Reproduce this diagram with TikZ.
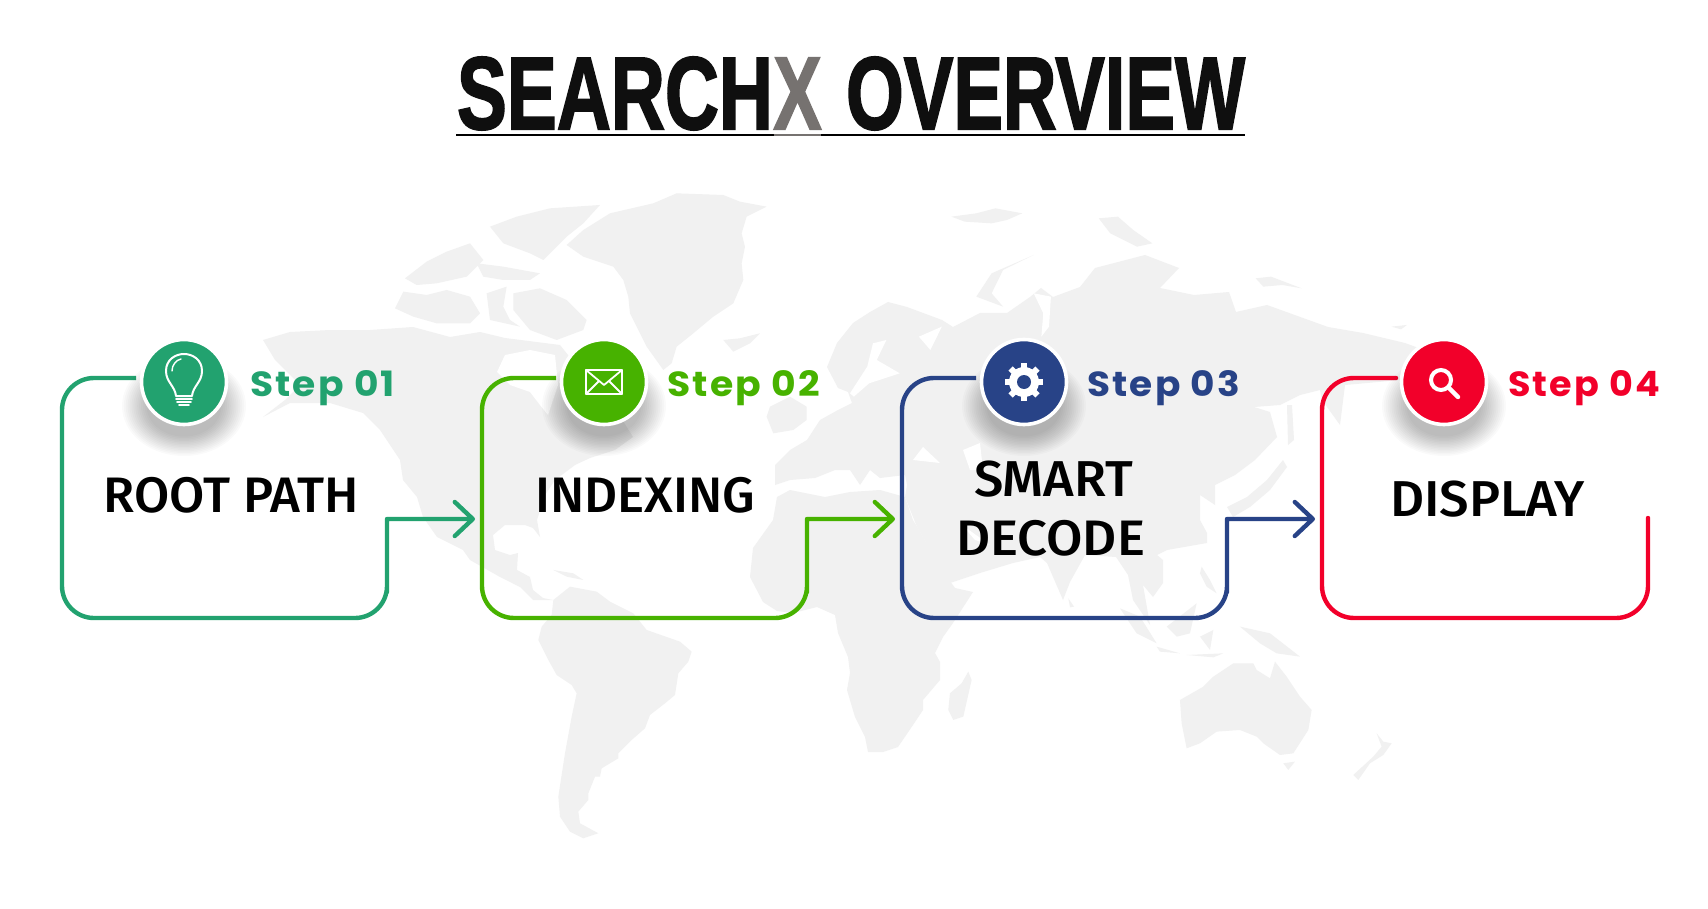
\documentclass[tikz,border=0pt]{standalone}
\usepackage{fontspec}
\usepackage{graphicx}
\usetikzlibrary{arrows.meta}
\newfontfamily\titlefont[FakeBold=2]{Liberation Sans Bold}
\newfontfamily\labfont{Fira Sans Medium}
\newfontfamily\stepfont[LetterSpace=6]{Poppins Bold}
\definecolor{cgreen}{HTML}{22A26F}
\definecolor{clime}{HTML}{47B200}
\definecolor{cnavy}{HTML}{284387}
\definecolor{cred}{HTML}{F2002A}
\definecolor{cmap}{HTML}{F1F1F1}
\definecolor{cx}{HTML}{767270}
\definecolor{cink}{HTML}{0F0F0F}
\newcommand{\fitbox}[3]{\resizebox{#1pt}{#2pt}{#3}}
\tikzset{
  land/.style={fill=cmap,draw=none},
  sea/.style={fill=white,draw=none},
  flowline/.style={line width=2.2pt,line join=round},
  tip/.style={-{Straight Barb[length=9pt,width=17pt,round]}},
  txt/.style={inner sep=0pt,outer sep=0pt,anchor=base west},
  disc/.style={circle,minimum size=42.5pt,inner sep=0pt,draw=white,line width=1.8pt},
  icon/.style={white,line width=1pt,line cap=round,line join=round},
}
\begin{document}
\begin{tikzpicture}[x=0.5pt,y=-0.5pt]
\useasboundingbox (0,0) rectangle (1708,909);
\fill[white] (0,0) rectangle (1708,909);
% ---------- world map ----------
% North America mainland
\fill[land] (263,417)--(290,403)--(330,403)--(363,413)--(380,430)--(400,460)--(403,480)--(417,497)--(423,517)--(437,537)--(463,550)--(470,560)--(500,577)--(520,587)--(533,600)--(553,600)--(543,598)--(533,590)--(530,577)--(517,570)--(518,553)--(510,555)--(495,550)--(493,535)--(505,525)--(525,525)--(533,528)--(540,537)--(537,520)--(545,495)--(555,480)--(575,465)--(590,458)--(615,450)--(633,437)--(610,400)--(580,370)--(560,345)--(505,338)--(480,332)--(450,337)--(413,327)--(370,330)--(330,330)--(290,332)--(263,340)--(275,360)--(300,385)--(285,400)--cycle;
\fill[sea] (497,372)--(505,355)--(530,350)--(555,355)--(558,385)--(548,415)--(540,405)--(530,392)--(510,385)--cycle;
% Arctic Canada and Greenland (zoom 7 frame)
\begin{scope}[shift={(370,180)},xscale=0.3333,yscale=0.3333]
\fill[land] (105,295)--(170,245)--(230,215)--(300,190)--(340,240)--(290,290)--(200,310)--(140,315)--cycle;
\fill[land] (360,140)--(440,110)--(540,85)--(690,75)--(640,130)--(590,170)--(520,240)--(480,220)--(400,190)--cycle;
\fill[land] (430,340)--(510,325)--(590,360)--(650,420)--(640,450)--(560,480)--(480,450)--(430,390)--cycle;
\fill[land] (75,385)--(100,335)--(170,345)--(230,330)--(300,350)--(330,400)--(300,430)--(200,430)--(130,410)--cycle;
\fill[land] (320,250)--(400,260)--(510,280)--(480,300)--(400,300)--(340,290)--cycle;
\fill[land] (350,340)--(410,320)--(400,380)--(420,420)--(450,440)--(360,420)--cycle;
\fill[land] (590,195)--(640,150)--(720,100)--(850,70)--(920,40)--(1060,45)--(1110,65)--(1190,80)--(1130,110)--(1115,160)--(1125,200)--(1115,250)--(1120,300)--(1090,370)--(1030,410)--(970,460)--(920,500)--(905,550)--(880,570)--(830,500)--(800,440)--(780,400)--(775,350)--(760,300)--(730,260)--(640,230)--cycle;
\fill[land] (1060,480)--(1110,475)--(1170,460)--(1140,490)--(1090,515)--cycle;
\fill[land] (1190,710)--(1200,680)--(1260,650)--(1310,680)--(1310,720)--(1270,750)--(1210,760)--cycle;
\end{scope}
% South America and Madagascar (zoom 9 frame)
\begin{scope}[shift={(500,520)},xscale=0.3333,yscale=0.3333]
\fill[land] (160,240)--(210,200)--(290,215)--(330,245)--(400,280)--(440,330)--(540,365)--(575,395)--(565,425)--(535,460)--(525,525)--(495,550)--(450,585)--(435,625)--(395,660)--(355,700)--(355,715)--(305,745)--(300,770)--(285,770)--(265,820)--(265,840)--(235,875)--(240,910)--(295,940)--(250,955)--(210,935)--(180,890)--(175,830)--(195,700)--(215,590)--(230,520)--(215,495)--(170,465)--(145,420)--(115,360)--(125,320)--(155,285)--cycle;
\fill[land] (1405,455)--(1415,480)--(1390,590)--(1360,600)--(1345,570)--(1350,520)--(1385,490)--cycle;
\fill[land] (160,150)--(220,160)--(250,180)--(200,170)--cycle;
\end{scope}
% Africa
\fill[land] (773,520)--(753,548)--(750,577)--(763,602)--(777,611)--(793,613)--(817,607)--(835,615)--(838,633)--(848,657)--(850,673)--(847,690)--(855,717)--(865,737)--(868,752)--(883,752)--(898,747)--(913,725)--(923,710)--(923,700)--(940,680)--(940,662)--(935,653)--(943,637)--(953,623)--(973,592)--(955,588)--(947,577)--(923,537)--(913,520)--(905,497)--(880,490)--(850,492)--(825,497)--(790,490)--(777,497)--cycle;
% Eurasia
\fill[land] (775,485)--(775,465)--(790,450)--(807,440)--(820,420)--(838,410)--(852,403)--(848,392)--(838,388)--(827,367)--(837,343)--(853,323)--(870,312)--(888,302)--(907,307)--(942,320)--(953,327)--(980,313)--(1007,313)--(1030,297)--(1041,288)--(1053,297)--(1080,287)--(1095,268)--(1145,255)--(1179,268)--(1160,288)--(1194,295)--(1229,292)--(1236,312)--(1267,305)--(1328,327)--(1363,333)--(1405,343)--(1424,350)--(1400,380)--(1345,385)--(1340,425)--(1322,400)--(1320,390)--(1300,395)--(1280,405)--(1254,407)--(1270,412)--(1277,437)--(1255,460)--(1235,475)--(1215,485)--(1215,505)--(1200,495)--(1200,520)--(1207,533)--(1207,543)--(1167,550)--(1157,555)--(1163,560)--(1163,583)--(1153,597)--(1143,585)--(1150,625)--(1133,600)--(1128,575)--(1116,557)--(1085,555)--(1070,582)--(1063,600)--(1047,563)--(1040,557)--(1013,563)--(980,573)--(950,583)--(917,527)--(905,497)--(907,485)--(905,475)--(880,478)--(870,470)--(860,485)--(850,470)--(835,470)--(815,478)--(790,480)--cycle;
% Seas cut out of Eurasia
\fill[sea] (923,447)--(940,463)--(913,460)--cycle;
\fill[sea] (963,450)--(980,443)--(983,470)--(970,470)--cycle;
\fill[sea] (962,525)--(990,545)--(975,540)--cycle;
\begin{scope}[shift={(850,180)},xscale=0.3827,yscale=0.3333]
\fill[sea] (60,490)--(95,480)--(70,540)--(130,580)--(50,610)--(10,650)--(0,640)--(45,560)--cycle;
\fill[sea] (180,470)--(240,440)--(210,510)--cycle;
\fill[sea] (480,340)--(525,350)--(520,440)--(500,470)--(505,400)--cycle;
% Arctic islands of Eurasia
\fill[land] (265,110)--(330,100)--(380,85)--(450,100)--(410,120)--(370,130)--(300,125)--cycle;
\fill[land] (650,115)--(700,110)--(740,150)--(790,190)--(750,200)--(680,160)--cycle;
\fill[land] (1060,295)--(1100,290)--(1180,325)--(1130,315)--(1080,320)--cycle;
\fill[land] (330,350)--(370,280)--(480,225)--(400,270)--(370,340)--(400,380)--cycle;
\fill[land] (1415,440)--(1455,435)--(1440,448)--cycle;
\end{scope}
% Japan
\fill[land] (1227,507)--(1247,497)--(1267,480)--(1283,460)--(1287,467)--(1270,490)--(1250,507)--(1233,517)--cycle;
\fill[land] (1287,405)--(1292,405)--(1294,440)--(1288,445)--cycle;
% South-east Asia and Oceania (zoom 10 frame)
\begin{scope}[shift={(1000,500)},xscale=0.3333,yscale=0.3333]
\fill[land] (360,325)--(420,350)--(470,430)--(410,400)--cycle;
\fill[land] (470,440)--(540,460)--(480,455)--cycle;
\fill[land] (500,380)--(590,310)--(570,400)--(530,410)--cycle;
\fill[land] (600,410)--(640,390)--(630,450)--cycle;
\fill[land] (605,200)--(630,240)--(650,280)--(620,260)--(600,220)--cycle;
\fill[land] (720,380)--(810,400)--(900,470)--(830,460)--(780,430)--cycle;
\fill[land] (205,295)--(222,320)--(210,322)--cycle;
\fill[land] (560,465)--(670,460)--(640,472)--cycle;
\fill[land] (540,600)--(610,560)--(640,530)--(700,490)--(760,490)--(770,510)--(810,535)--(825,485)--(860,530)--(900,590)--(935,630)--(925,690)--(880,760)--(840,765)--(790,730)--(770,710)--(720,690)--(650,695)--(600,730)--(560,745)--(555,720)--(545,670)--cycle;
\fill[land] (850,790)--(885,785)--(865,810)--cycle;
\fill[land] (1130,700)--(1150,725)--(1175,730)--(1150,765)--(1110,790)--(1075,840)--(1060,825)--(1120,770)--(1145,740)--cycle;
\end{scope}
% ---------- title ----------
\node[txt,text=cink] (ttlA) at (457,129) {\fitbox{158}{36}{\titlefont SEARCH}};
\node[txt,text=cx] (ttlB) at (773.5,129) {\fitbox{24}{35.5}{\titlefont X}};
\node[txt,text=cink] (ttlC) at (846,129) {\fitbox{199.5}{36}{\titlefont OVERVIEW}};
\coordinate (ulA) at (456,135);
\coordinate (ulB) at (773.5,135);
\coordinate (ulC) at (821,135);
\coordinate (ulD) at (1245,135);
\draw[line width=1.4pt,black] (ulA)--(ulB) (ulC)--(ulD);
\draw[line width=1.4pt,cx] (ulB)--(ulC);
% ---------- flow lines ----------
\coordinate (s1) at (136,378); \coordinate (s2) at (556,378);
\coordinate (s3) at (976,378); \coordinate (s4) at (1396,378);
\coordinate (t1) at (475,519); \coordinate (t2) at (895,519);
\coordinate (t3) at (1315,519); \coordinate (t4) at (1648,518);
\draw[flowline,tip,cgreen,rounded corners=16pt] (s1)--(62,378)--(62,618)--(387,618)--(387,560)[sharp corners]--(387,519)--(t1);
\draw[flowline,tip,clime,rounded corners=16pt] (s2)--(482,378)--(482,618)--(807,618)--(807,560)[sharp corners]--(807,519)--(t2);
\draw[flowline,tip,cnavy,rounded corners=16pt] (s3)--(902,378)--(902,618)--(1227,618)--(1227,560)[sharp corners]--(1227,519)--(t3);
\draw[flowline,cred,rounded corners=16pt,line cap=round] (s4)--(1322,378)--(1322,618)--(1648,618)--(t4);
% ---------- soft shadows under the discs ----------
\foreach \cx in {184,604,1024,1444}{
  \foreach \k in {0,...,13}{
    \fill[black,opacity=0.02] (\cx,406) ellipse ({62-1.9*\k} and {50-1.5*\k});
  }
}
% ---------- discs ----------
\node[disc,fill=cgreen] (c1) at (184,382) {};
\node[disc,fill=clime] (c2) at (604,382) {};
\node[disc,fill=cnavy] (c3) at (1024,382) {};
\node[disc,fill=cred] (c4) at (1444,382) {};
% bulb
\begin{scope}[shift={(c1)}]
\draw[icon] (-8,14) .. controls (-9,4) and (-18,0) .. (-18,-11) .. controls (-18,-22) and (-9,-28) .. (0,-28) .. controls (9,-28) and (18,-22) .. (18,-11) .. controls (18,0) and (9,4) .. (8,14) -- cycle;
\draw[icon,line width=0.7pt] (-12,-11) .. controls (-12,-17) and (-8,-22) .. (-3,-23);
\draw[icon,line width=0.8pt] (-8,17)--(8,17) (-7,20)--(7,20) (-5,23)--(5,23);
\end{scope}
% envelope
\begin{scope}[shift={(c2)}]
\draw[icon,line width=1.1pt,line cap=butt] (-18,-12) rectangle (18,12);
\draw[icon,line width=0.9pt] (-18,-12)--(0,3)--(18,-12) (-18,12)--(-5,-1) (18,12)--(5,-1);
\end{scope}
% gear
\begin{scope}[shift={(c3)}]
\foreach \a in {0,45,...,315}{\draw[white,line width=3pt] (\a:10)--(\a:19);}
\fill[white] (0,0) circle (15);
\fill[cnavy] (0,0) circle (7);
\end{scope}
% magnifier
\begin{scope}[shift={(c4)}]
\draw[white,line width=2pt] (-3,-2) circle (10);
\draw[white,line width=2.2pt,line cap=round] (5,6)--(14,15);
\end{scope}
% ---------- step labels ----------
\node[txt,text=cgreen] (st1) at (250,396) {\fitbox{72.5}{13}{\stepfont Step 01}};
\node[txt,text=clime] (st2) at (667,396) {\fitbox{76.5}{13}{\stepfont Step 02}};
\node[txt,text=cnavy] (st3) at (1087,396) {\fitbox{76.5}{13}{\stepfont Step 03}};
\node[txt,text=cred] (st4) at (1508,396) {\fitbox{76}{13}{\stepfont Step 04}};
% ---------- box labels ----------
\node[txt] (l1) at (104,512) {\fitbox{127.5}{17.6}{\labfont ROOT PATH}};
\node[txt] (l2) at (535,512) {\fitbox{110}{17.6}{\labfont INDEXING}};
\node[txt] (l3a) at (974,496) {\fitbox{79.5}{17.8}{\labfont SMART}};
\node[txt] (l3b) at (956,555) {\fitbox{94.5}{17.6}{\labfont DECODE}};
\node[txt] (l4) at (1390,516) {\fitbox{97.5}{17.8}{\labfont DISPLAY}};
\end{tikzpicture}
\end{document}
